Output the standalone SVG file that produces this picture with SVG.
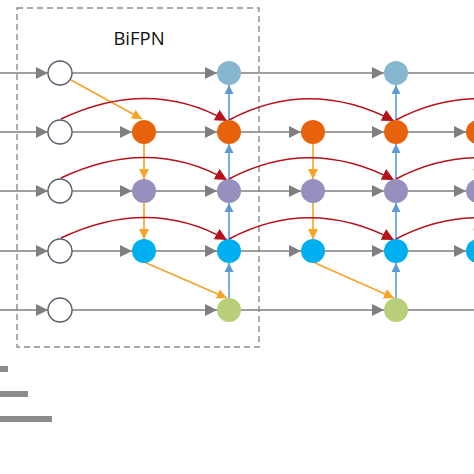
<svg xmlns="http://www.w3.org/2000/svg" width="474" height="474" viewBox="0 0 474 474">
<style>
.g{stroke:#7f7f7f;stroke-width:1.6;fill:none}
.o{stroke:#F7A325;stroke-width:1.6;fill:none}
.b{stroke:#5B9BD5;stroke-width:1.6;fill:none}
.r{stroke:#B5121B;stroke-width:1.6;fill:none}
.in{fill:#fff;stroke:#5a5a6a;stroke-width:1.4}
.c1{fill:#87B7CE}
.c2{fill:#E8620C}
.c3{fill:#9790BE}
.c4{fill:#00AFEF}
.c5{fill:#B6CF78}
.bar{fill:#8c8c8c}
</style>
<defs>
<marker id="ag" viewBox="0 0 10 10" refX="10" refY="5" markerWidth="12" markerHeight="12" markerUnits="userSpaceOnUse" orient="auto"><path d="M0,0 L10,5 L0,10 z" fill="#7f7f7f"/></marker>
<marker id="ao" viewBox="0 0 10 10" refX="10" refY="5" markerWidth="10" markerHeight="11" markerUnits="userSpaceOnUse" orient="auto"><path d="M0,0 L10,5 L0,10 z" fill="#F7A325"/></marker>
<marker id="ab" viewBox="0 0 10 10" refX="10" refY="5" markerWidth="9" markerHeight="10" markerUnits="userSpaceOnUse" orient="auto"><path d="M0,0 L10,5 L0,10 z" fill="#5B9BD5"/></marker>
<marker id="ar" viewBox="0 0 10 10" refX="10" refY="5" markerWidth="12" markerHeight="12" markerUnits="userSpaceOnUse" orient="auto"><path d="M0,0 L10,5 L0,10 z" fill="#B5121B"/></marker>
</defs>
<rect x="17" y="8" width="242" height="339" fill="none" stroke="#8a8a8a" stroke-width="1.4" stroke-dasharray="6,4"/>
<text x="139" y="45" font-family="'Open Sans', 'Liberation Sans', sans-serif" font-size="18.5" text-anchor="middle" fill="#111">BiFPN</text>
<g id="connectors">
<path class="g" d="M0,73 H48" marker-end="url(#ag)"/>
<path class="g" d="M72,73 H217" marker-end="url(#ag)"/>
<path class="g" d="M241,73 H384" marker-end="url(#ag)"/>
<path class="g" d="M408,73 H474"/>
<path class="g" d="M0,132 H48" marker-end="url(#ag)"/>
<path class="g" d="M72,132 H132" marker-end="url(#ag)"/>
<path class="g" d="M156,132 H217" marker-end="url(#ag)"/>
<path class="g" d="M241,132 H301" marker-end="url(#ag)"/>
<path class="g" d="M325,132 H384" marker-end="url(#ag)"/>
<path class="g" d="M408,132 H466" marker-end="url(#ag)"/>
<path class="g" d="M0,191 H48" marker-end="url(#ag)"/>
<path class="g" d="M72,191 H132" marker-end="url(#ag)"/>
<path class="g" d="M156,191 H217" marker-end="url(#ag)"/>
<path class="g" d="M241,191 H301" marker-end="url(#ag)"/>
<path class="g" d="M325,191 H384" marker-end="url(#ag)"/>
<path class="g" d="M408,191 H466" marker-end="url(#ag)"/>
<path class="g" d="M0,251 H48" marker-end="url(#ag)"/>
<path class="g" d="M72,251 H132" marker-end="url(#ag)"/>
<path class="g" d="M156,251 H217" marker-end="url(#ag)"/>
<path class="g" d="M241,251 H301" marker-end="url(#ag)"/>
<path class="g" d="M325,251 H384" marker-end="url(#ag)"/>
<path class="g" d="M408,251 H466" marker-end="url(#ag)"/>
<path class="g" d="M0,310 H48" marker-end="url(#ag)"/>
<path class="g" d="M72,310 H217" marker-end="url(#ag)"/>
<path class="g" d="M241,310 H384" marker-end="url(#ag)"/>
<path class="g" d="M408,310 H474"/>
<path class="o" d="M71,80 L142,119" marker-end="url(#ao)"/>
<path class="o" d="M144,144 V179" marker-end="url(#ao)"/>
<path class="o" d="M144,203 V239" marker-end="url(#ao)"/>
<path class="o" d="M144,262 L227,298" marker-end="url(#ao)"/>
<path class="o" d="M313,144 V179" marker-end="url(#ao)"/>
<path class="o" d="M313,203 V239" marker-end="url(#ao)"/>
<path class="o" d="M313,262 L394,298" marker-end="url(#ao)"/>
<path class="o" d="M478,144 V179" marker-end="url(#ao)"/>
<path class="o" d="M478,203 V239" marker-end="url(#ao)"/>
<path class="b" d="M229,298 V263" marker-end="url(#ab)"/>
<path class="b" d="M229,239 V203" marker-end="url(#ab)"/>
<path class="b" d="M229,179 V144" marker-end="url(#ab)"/>
<path class="b" d="M229,120 V85" marker-end="url(#ab)"/>
<path class="b" d="M396,298 V263" marker-end="url(#ab)"/>
<path class="b" d="M396,239 V203" marker-end="url(#ab)"/>
<path class="b" d="M396,179 V144" marker-end="url(#ab)"/>
<path class="b" d="M396,120 V85" marker-end="url(#ab)"/>
<path class="r" d="M61,119 Q150,77 227,121" marker-end="url(#ar)"/>
<path class="r" d="M229,120 Q310,77 394,121" marker-end="url(#ar)"/>
<path class="r" d="M396,120 Q478,77 562,121"/>
<path class="r" d="M61,178 Q150,136 227,180" marker-end="url(#ar)"/>
<path class="r" d="M229,179 Q310,136 394,180" marker-end="url(#ar)"/>
<path class="r" d="M396,179 Q478,136 562,180"/>
<path class="r" d="M61,238 Q150,196 227,240" marker-end="url(#ar)"/>
<path class="r" d="M229,239 Q310,196 394,240" marker-end="url(#ar)"/>
<path class="r" d="M396,239 Q478,196 562,240"/>
</g>
<g id="col1">
<circle id="n1-1" class="in" cx="60" cy="73" r="12"/>
<circle id="n1-2" class="in" cx="60" cy="132" r="12"/>
<circle id="n1-3" class="in" cx="60" cy="191" r="12"/>
<circle id="n1-4" class="in" cx="60" cy="251" r="12"/>
<circle id="n1-5" class="in" cx="60" cy="310" r="12"/>
</g>
<g id="col2">
<circle id="n2-2" class="c2" cx="144" cy="132" r="12"/>
<circle id="n2-3" class="c3" cx="144" cy="191" r="12"/>
<circle id="n2-4" class="c4" cx="144" cy="251" r="12"/>
</g>
<g id="col3">
<circle id="n3-1" class="c1" cx="229" cy="73" r="12"/>
<circle id="n3-2" class="c2" cx="229" cy="132" r="12"/>
<circle id="n3-3" class="c3" cx="229" cy="191" r="12"/>
<circle id="n3-4" class="c4" cx="229" cy="251" r="12"/>
<circle id="n3-5" class="c5" cx="229" cy="310" r="12"/>
</g>
<g id="col4">
<circle id="n4-2" class="c2" cx="313" cy="132" r="12"/>
<circle id="n4-3" class="c3" cx="313" cy="191" r="12"/>
<circle id="n4-4" class="c4" cx="313" cy="251" r="12"/>
</g>
<g id="col5">
<circle id="n5-1" class="c1" cx="396" cy="73" r="12"/>
<circle id="n5-2" class="c2" cx="396" cy="132" r="12"/>
<circle id="n5-3" class="c3" cx="396" cy="191" r="12"/>
<circle id="n5-4" class="c4" cx="396" cy="251" r="12"/>
<circle id="n5-5" class="c5" cx="396" cy="310" r="12"/>
</g>
<g id="col6">
<circle id="n6-2" class="c2" cx="478" cy="132" r="12"/>
<circle id="n6-3" class="c3" cx="478" cy="191" r="12"/>
<circle id="n6-4" class="c4" cx="478" cy="251" r="12"/>
</g>
<g id="bars">
<rect class="bar" x="0" y="366" width="8" height="6"/>
<rect class="bar" x="0" y="391" width="28" height="6"/>
<rect class="bar" x="0" y="416" width="52" height="6"/>
</g>
</svg>
